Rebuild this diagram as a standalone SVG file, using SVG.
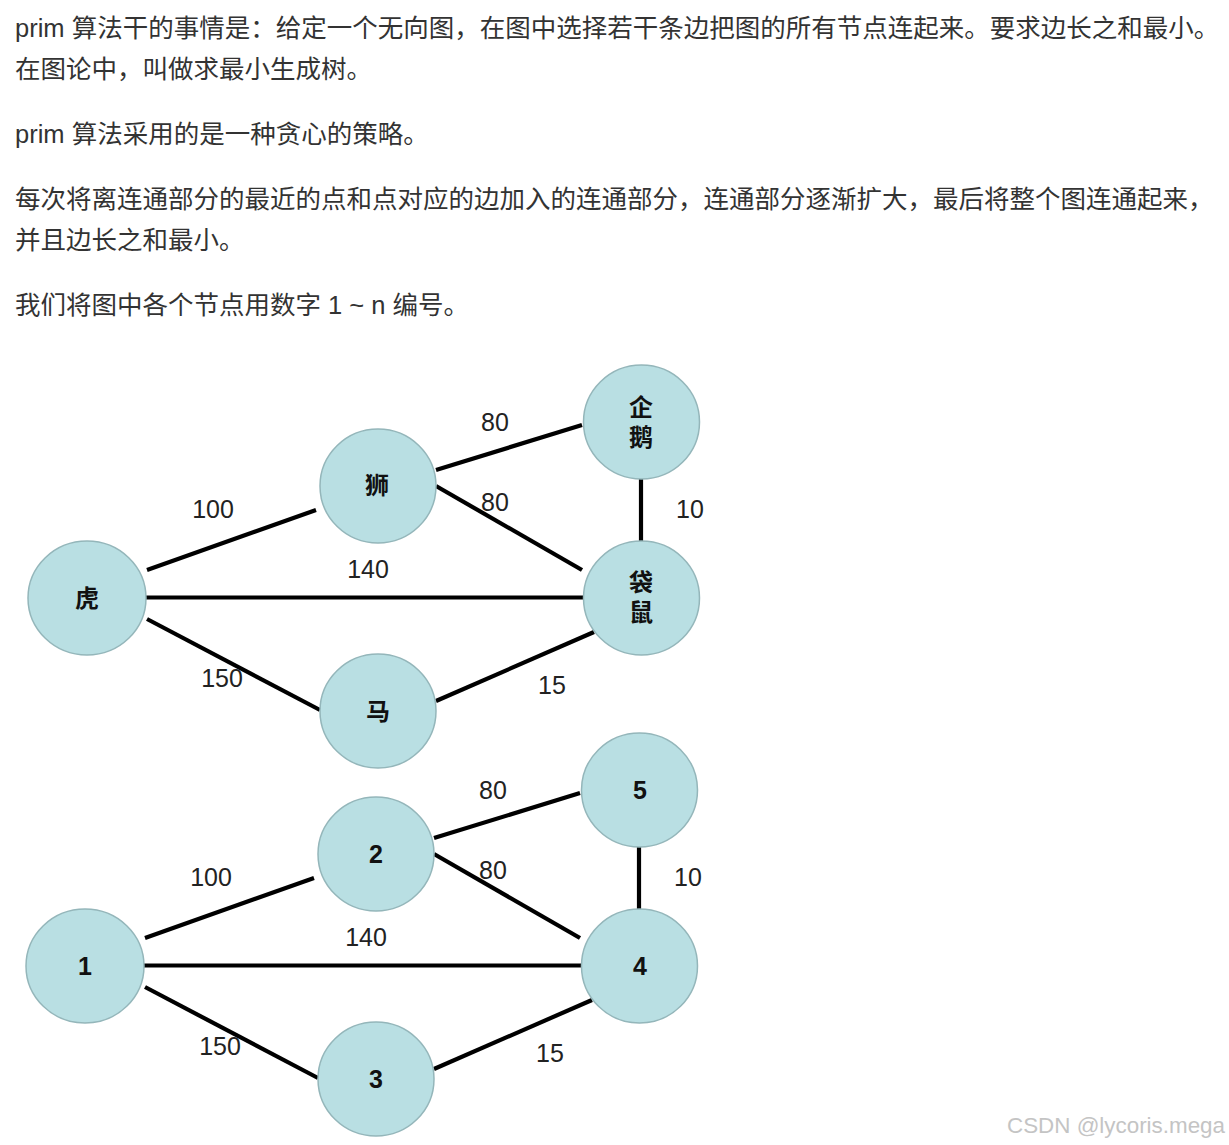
<svg xmlns="http://www.w3.org/2000/svg" width="1229" height="1145" viewBox="0 0 1229 1145">
<style>
.body{font-family:"Liberation Sans","Noto Sans CJK SC",sans-serif;font-size:25.5px;fill:#333}
.node ellipse{fill:#b9dfe3;stroke:#94b6ba;stroke-width:1.5}
.nl{font-family:"Noto Sans CJK SC",sans-serif;font-size:24px;font-weight:bold;fill:#111;text-anchor:middle}
.vl{font-family:"Noto Sans CJK SC",sans-serif;font-size:24px;font-weight:bold;fill:#111;text-anchor:middle;writing-mode:vertical-rl;letter-spacing:6px}
.nd{font-family:"Liberation Sans",sans-serif;font-size:25px;font-weight:bold;fill:#111;text-anchor:middle}
.el{font-family:"Liberation Sans",sans-serif;font-size:25px;fill:#222;text-anchor:middle}
#connectors line{stroke:#000;stroke-width:4.2}
.wm{font-family:"Liberation Sans",sans-serif;font-size:22px;fill:#c4c4c4}
</style>
<rect width="1229" height="1145" fill="#fff"/>
<g id="text">
<text class="body" x="15" y="37">prim 算法干的事情是：给定一个无向图，在图中选择若干条边把图的所有节点连起来。要求边长之和最小。</text>
<text class="body" x="15" y="78">在图论中，叫做求最小生成树。</text>
<text class="body" x="15" y="143">prim 算法采用的是一种贪心的策略。</text>
<text class="body" x="15" y="208">每次将离连通部分的最近的点和点对应的边加入的连通部分，连通部分逐渐扩大，最后将整个图连通起来，</text>
<text class="body" x="15" y="249">并且边长之和最小。</text>
<text class="body" x="15" y="314">我们将图中各个节点用数字 1 ~ n 编号。</text>
</g>
<g id="connectors">
<line x1="147" y1="570" x2="316" y2="510"/>
<line x1="145" y1="597.5" x2="584" y2="597.5"/>
<line x1="147" y1="619" x2="320" y2="710"/>
<line x1="436" y1="701" x2="594" y2="632"/>
<line x1="436" y1="470" x2="582" y2="425"/>
<line x1="436" y1="486" x2="582" y2="570"/>
<line x1="641" y1="479" x2="641" y2="541"/>
<line x1="145" y1="938" x2="314" y2="878"/>
<line x1="143" y1="965.5" x2="582" y2="965.5"/>
<line x1="145" y1="987" x2="318" y2="1078"/>
<line x1="434" y1="1069" x2="592" y2="1000"/>
<line x1="434" y1="838" x2="580" y2="793"/>
<line x1="434" y1="854" x2="580" y2="938"/>
<line x1="639" y1="847" x2="639" y2="909"/>
</g>
<g id="edge-labels">
<text class="el" x="495" y="431">80</text>
<text class="el" x="495" y="511">80</text>
<text class="el" x="213" y="518">100</text>
<text class="el" x="368" y="578">140</text>
<text class="el" x="222" y="687">150</text>
<text class="el" x="552" y="694">15</text>
<text class="el" x="690" y="518">10</text>
<text class="el" x="493" y="799">80</text>
<text class="el" x="493" y="879">80</text>
<text class="el" x="211" y="886">100</text>
<text class="el" x="366" y="946">140</text>
<text class="el" x="220" y="1055">150</text>
<text class="el" x="550" y="1062">15</text>
<text class="el" x="688" y="886">10</text>
</g>
<g id="node-hu" class="node"><ellipse cx="87" cy="598" rx="59" ry="57"/><text class="nl" x="87" y="607">虎</text></g>
<g id="node-shi" class="node"><ellipse cx="378" cy="486" rx="58" ry="57"/><text class="nl" x="377" y="494">狮</text></g>
<g id="node-qie" class="node"><ellipse cx="641.5" cy="422" rx="58" ry="57"/><text class="vl" x="641" y="425">企鹅</text></g>
<g id="node-daishu" class="node"><ellipse cx="641.5" cy="598" rx="58" ry="57"/><text class="vl" x="641" y="600">袋鼠</text></g>
<g id="node-ma" class="node"><ellipse cx="378" cy="711" rx="58" ry="57"/><text class="nl" x="378" y="720">马</text></g>
<g id="node-1" class="node"><ellipse cx="85" cy="966" rx="59" ry="57"/><text class="nd" x="85" y="975">1</text></g>
<g id="node-2" class="node"><ellipse cx="376" cy="854" rx="58" ry="57"/><text class="nd" x="376" y="863">2</text></g>
<g id="node-5" class="node"><ellipse cx="639.5" cy="790" rx="58" ry="57"/><text class="nd" x="640" y="799">5</text></g>
<g id="node-4" class="node"><ellipse cx="639.5" cy="966" rx="58" ry="57"/><text class="nd" x="640" y="975">4</text></g>
<g id="node-3" class="node"><ellipse cx="376" cy="1079" rx="58" ry="57"/><text class="nd" x="376" y="1088">3</text></g>
<text class="wm" x="1007" y="1133" textLength="218" lengthAdjust="spacingAndGlyphs">CSDN @lycoris.mega</text>
</svg>
